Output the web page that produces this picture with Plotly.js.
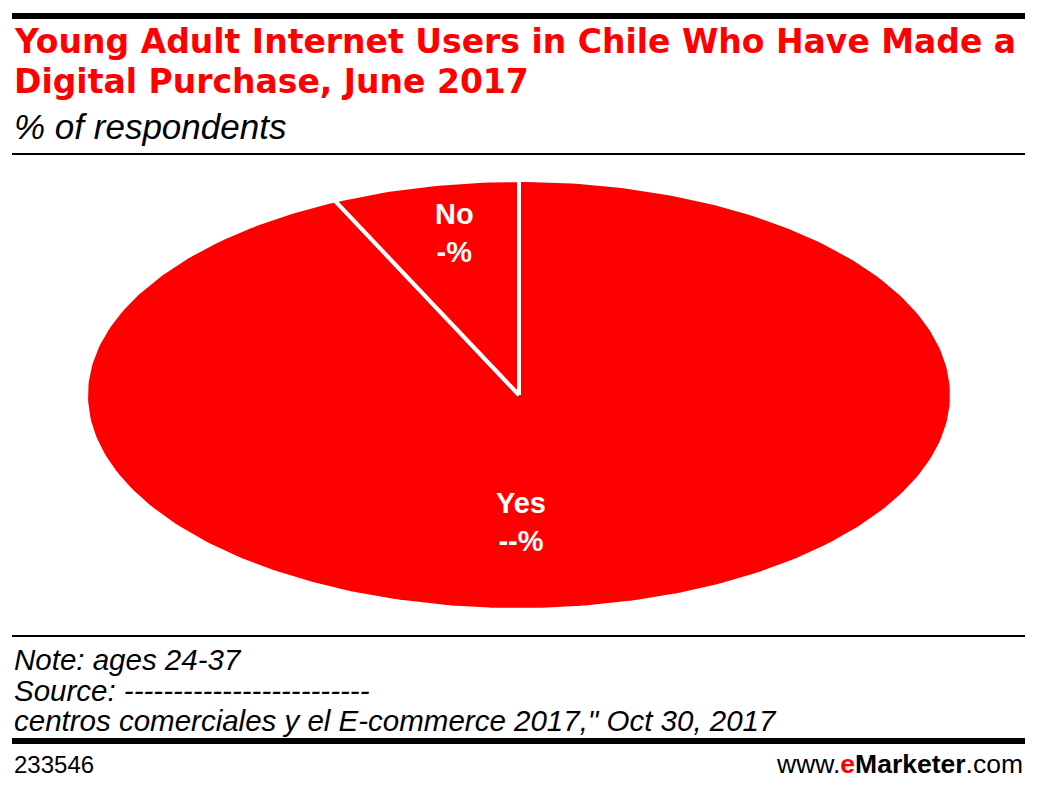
<!DOCTYPE html>
<html>
<head>
<meta charset="utf-8">
<script src="https://cdn.plot.ly/plotly-3.0.1.min.js"></script>
<style>
html, body { margin: 0; padding: 0; background: #fff; }
#chart { width: 1038px; height: 791px; }
</style>
</head>
<body>
<div id="chart"></div>
<script>
const labels = ['Yes', 'No']
const values = [93, 7]
const shownText = ['--%', '-%']
const sliceColors = ['#ff0000', '#ff0000']

const W = 1038, H = 791
const px = x => x / W
const py = y => 1 - y / H

// one slice of the (stretched) pie, angles in degrees clockwise from 12 o'clock
function wedge(a0, a1) {
    const xs = [0], ys = [0]
    const steps = Math.max(2, Math.ceil(a1 - a0))
    for (let i = 0; i <= steps; i++) {
        const a = (a0 + (a1 - a0) * i / steps) * Math.PI / 180
        xs.push(Math.sin(a))
        ys.push(Math.cos(a))
    }
    xs.push(0)
    ys.push(0)
    return {xs, ys}
}

const total = values.reduce((s, v) => s + v, 0)
let start = 0
const traces = labels.map(function (lab, i) {
    const sweep = 360 * values[i] / total
    const w = wedge(start, start + sweep)
    start += sweep
    return {
        type: 'scatter', mode: 'lines', name: lab,
        x: w.xs, y: w.ys, fill: 'toself', fillcolor: sliceColors[i],
        line: {color: '#ffffff', width: 4, shape: 'linear'},
        hoverinfo: 'skip', showlegend: false
    }
})

// label spots inside the slices (layout, not data)
const labelSpots = [[0.005, -0.59], [-0.148, 0.755]]
const pieLabels = labels.map(function (lab, i) {
    return {
        xref: 'x', yref: 'y', x: labelSpots[i][0], y: labelSpots[i][1],
        text: '<b>' + lab + '</b><br><b>' + shownText[i] + '</b>',
        showarrow: false, align: 'center',
        font: {family: 'Liberation Sans', size: 29, color: '#ffffff'}
    }
})

const textFont = 'Liberation Sans, sans-serif'
function note(text, y, size, extra) {
    return Object.assign({
        xref: 'paper', yref: 'paper', x: px(12), y: py(y), xanchor: 'left', yanchor: 'middle',
        text: text, showarrow: false, align: 'left',
        font: {family: textFont, size: size, color: '#000000'}
    }, extra || {})
}

const titleFont = {family: 'DejaVu Sans', size: 33, color: '#ff0000'}
const annotations = pieLabels.concat([
    note('<b>Young Adult Internet Users in Chile Who Have Made a</b>', 42, 33, {font: titleFont}),
    note('<b>Digital Purchase, June 2017</b>', 81, 33, {font: titleFont}),
    note('<i>% of respondents</i>', 127, 35),
    note('<i>Note: ages 24-37</i>', 659, 29.5),
    note('<i>Source: -------------------------</i>', 690, 29.5),
    note('<i>centros comerciales y el E-commerce 2017," Oct 30, 2017</i>', 720, 29.5),
    note('233546', 764, 24),
    {
        xref: 'paper', yref: 'paper', x: px(1025), y: py(764), xanchor: 'right', yanchor: 'middle',
        text: 'www.<b><span style="color:#ff0000">e</span>Marketer</b>.com',
        showarrow: false, font: {family: textFont, size: 26.5, color: '#000000'}
    }
])

function hline(y, width) {
    return {
        type: 'line', xref: 'paper', yref: 'paper',
        x0: px(12), x1: px(1025), y0: py(y), y1: py(y),
        line: {color: '#000000', width: width}
    }
}

const layout = {
    width: W, height: H,
    margin: {l: 0, r: 0, t: 0, b: 0},
    paper_bgcolor: '#ffffff', plot_bgcolor: '#ffffff',
    showlegend: false,
    xaxis: {domain: [px(86), px(952)], range: [-1, 1], visible: false, fixedrange: true},
    yaxis: {domain: [py(610), py(180)], range: [-1, 1], visible: false, fixedrange: true},
    shapes: [hline(16, 6), hline(154, 2), hline(636, 2), hline(741, 6)],
    annotations: annotations
}

Plotly.newPlot('chart', traces, layout, {staticPlot: true, displayModeBar: false})
</script>
</body>
</html>
